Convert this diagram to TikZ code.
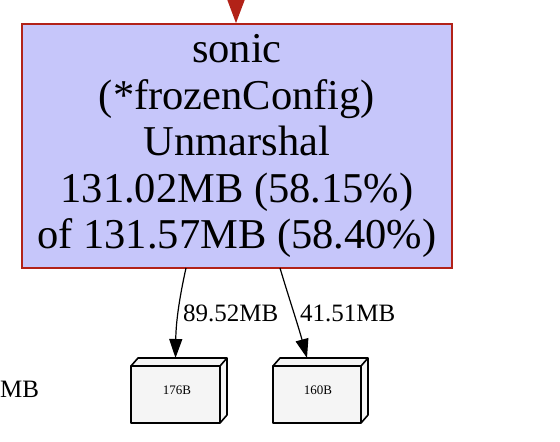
\documentclass[tikz,border=0pt]{standalone}
\usepackage{fontspec}
\setmainfont{Liberation Serif}
\usetikzlibrary{arrows.meta}
\definecolor{nodefill}{RGB}{198,198,250}
\definecolor{nodered}{RGB}{178,34,24}
\definecolor{boxfill}{RGB}{245,245,245}
\tikzset{
  mainbox/.style={draw=nodered, line width=1.3pt, fill=nodefill, minimum width=430pt, minimum height=244pt, inner sep=0pt, align=center, font=\fontsize{42.5}{46.5}\selectfont},
  edgeline/.style={draw=black, line width=1.2pt, -{Triangle[length=19pt,width=13pt]}},
  redline/.style={draw=nodered, line width=3pt, -{Triangle[length=24pt,width=17pt]}, nodered},
  elabel/.style={font=\fontsize{25}{27}\selectfont, inner sep=0pt},
  smalltxt/.style={font=\fontsize{13}{15}\selectfont}
}
\newcommand{\boxthree}[3]{% name, x-left, x-right
  \fill[boxfill] (#2,366) rectangle (#3,423);
  \fill[boxfill] (#2,366) -- (#2+7,358) -- (#3+7,358) -- (#3,366) -- cycle;
  \fill[boxfill] (#3,366) -- (#3+7,358) -- (#3+7,415) -- (#3,423) -- cycle;
  \draw[line width=1.6pt, line join=round] (#2,366) rectangle (#3,423);
  \draw[line width=1.6pt, line join=round] (#2,366) -- (#2+7,358) -- (#3+7,358) -- (#3+7,415) -- (#3,423);
  \draw[line width=1.6pt] (#3,366) -- (#3+7,358);
}
\begin{document}
\begin{tikzpicture}[x=1pt,y=-1pt]
\useasboundingbox (0,0) rectangle (560,442);
\clip (0,0) rectangle (560,442);
\node[mainbox] (main) at (237,146) {sonic\\(*frozenConfig)\\Unmarshal\\131.02MB (58.15\%)\\of 131.57MB (58.40\%)};
\coordinate (src) at (236,-40);
\draw[redline] (src) -- (main.north -| src);
\boxthree{a}{131}{220}
\boxthree{b}{273}{361}
\node[smalltxt] (a) at (177,390) {176B};
\node[smalltxt] (b) at (318,390) {160B};
\coordinate (atop) at (175.5,358);
\coordinate (btop) at (307,358);
\draw[edgeline] (186,268) .. controls (180,295) and (176,320) .. (atop);
\draw[edgeline] (280,268) .. controls (288,295) and (298,325) .. (btop);
\node[elabel, anchor=west] (la) at (183,313) {89.52MB};
\node[elabel, anchor=west] (lb) at (300,313) {41.51MB};
\node[elabel, anchor=west] (lm) at (0,389) {MB};
\end{tikzpicture}
\end{document}
